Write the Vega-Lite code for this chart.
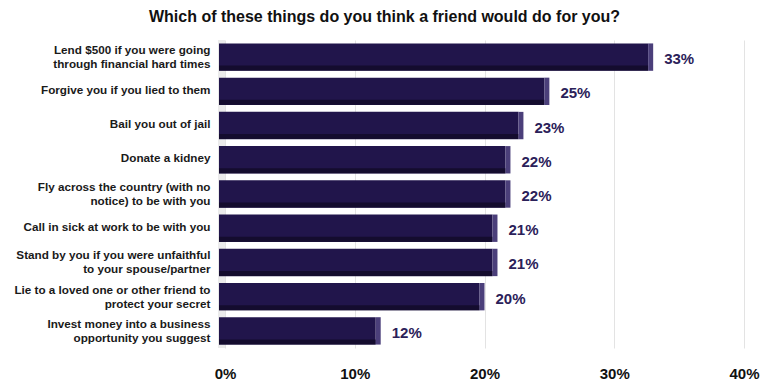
{
  "$schema": "https://vega.github.io/schema/vega-lite/v6.json",
  "autosize": "none",
  "width": 519,
  "height": 308,
  "padding": {"left": 225, "top": 40, "right": 24, "bottom": 38},
  "background": "white",
  "title": {
    "text": "Which of these things do you think a friend would do for you?",
    "font": "Liberation Sans",
    "fontSize": 16,
    "fontWeight": "bold",
    "color": "#111111",
    "anchor": "middle",
    "dx": -100,
    "offset": 12
  },
  "data": {
    "values": [
      {"item": "Lend $500 if you were going|through financial hard times", "share": 0.33},
      {"item": "Forgive you if you lied to them", "share": 0.25},
      {"item": "Bail you out of jail", "share": 0.23},
      {"item": "Donate a kidney", "share": 0.22},
      {"item": "Fly across the country (with no|notice) to be with you", "share": 0.22},
      {"item": "Call in sick at work to be with you", "share": 0.21},
      {"item": "Stand by you if you were unfaithful|to your spouse/partner", "share": 0.21},
      {"item": "Lie to a loved one or other friend to|protect your secret", "share": 0.20},
      {"item": "Invest money into a business|opportunity you suggest", "share": 0.12}
    ]
  },
  "layer": [
    {
      "mark": {"type": "rule", "color": "#ebebeb", "strokeWidth": 7, "xOffset": -3.5},
      "encoding": {"x": {"datum": 0, "type": "quantitative", "scale": {"domain": [0, 0.4]}}}
    },
    {
      "mark": {"type": "bar", "color": "#21154b", "xOffset": -5, "x2Offset": -6},
      "encoding": {
        "y": {
          "field": "item",
          "type": "nominal",
          "sort": null,
          "scale": {"paddingInner": 0.2, "paddingOuter": 0.1},
          "axis": {
            "title": null,
            "domain": false,
            "ticks": false,
            "labelExpr": "split(datum.label, '|')",
            "labelFont": "Liberation Sans",
            "labelFontSize": 11.7,
            "labelFontWeight": "bold",
            "labelColor": "#1a1a1a",
            "labelPadding": 15,
            "labelLineHeight": 14,
            "labelLimit": 300,
            "labelOffset": {"condition": {"test": "indexof(datum.value, '|') >= 0", "value": -7}, "value": -1.5}
          }
        },
        "x": {
          "field": "share",
          "type": "quantitative",
          "scale": {"domain": [0, 0.4]},
          "axis": {
            "title": null,
            "values": [0, 0.1, 0.2, 0.3, 0.4],
            "format": ".0%",
            "domain": false,
            "ticks": false,
            "grid": true,
            "gridColor": "#e3e3e3",
            "gridWidth": 1,
            "labelFlush": false,
            "labelFont": "Liberation Sans",
            "labelFontSize": 15,
            "labelFontWeight": "bold",
            "labelColor": "#111111",
            "labelPadding": 18
          }
        },
        "x2": {"datum": 0}
      }
    },
    {
      "mark": {"type": "bar", "color": "#140c2e", "xOffset": -5, "x2Offset": -6, "height": 5, "yOffset": 11},
      "encoding": {
        "y": {"field": "item", "type": "nominal", "sort": null},
        "x": {"field": "share", "type": "quantitative"},
        "x2": {"datum": 0}
      }
    },
    {
      "mark": {"type": "bar", "color": "#4b3f7a", "xOffset": -5, "x2Offset": 0},
      "encoding": {
        "y": {"field": "item", "type": "nominal", "sort": null},
        "x": {"field": "share", "type": "quantitative"},
        "x2": {"field": "share"}
      }
    },
    {
      "mark": {"type": "text", "align": "left", "baseline": "middle", "dx": 11, "dy": 2, "font": "Liberation Sans", "fontSize": 15, "fontWeight": "bold", "color": "#2b2159"},
      "encoding": {
        "y": {"field": "item", "type": "nominal", "sort": null},
        "x": {"field": "share", "type": "quantitative"},
        "text": {"field": "share", "type": "quantitative", "format": ".0%"}
      }
    }
  ],
  "config": {"view": {"stroke": null}}
}
